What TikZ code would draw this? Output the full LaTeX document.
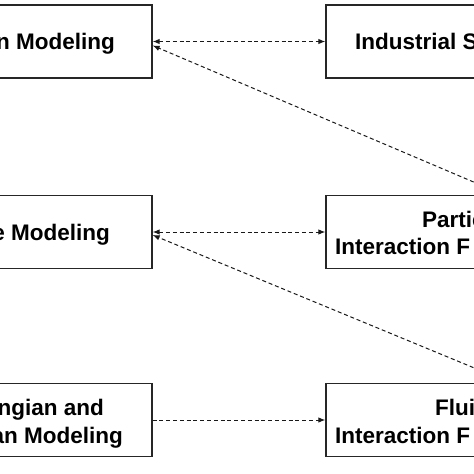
\documentclass[tikz,border=0pt]{standalone}
\usepackage{fontspec}
\setmainfont{Liberation Sans}
\usetikzlibrary{arrows.meta}

\begin{document}
\begin{tikzpicture}[x=1pt,y=-1pt,
    box/.style={draw=black!85, line width=1.3pt, minimum width=260pt, minimum height=73pt, inner sep=0pt},
    txt/.style={font=\fontsize{22.5}{27}\selectfont\bfseries, inner sep=0pt},
    link/.style={dash pattern=on 4pt off 2.8pt, line width=1pt, black!90},
    tip/.style={-{Latex[length=7pt,width=5.5pt]}},
    both/.style={{Latex[length=7pt,width=5.5pt]}-{Latex[length=7pt,width=5.5pt]}}]

        % Frame of the cropped view
        \useasboundingbox (0,0) rectangle (474,474);
        \clip (0,0) rectangle (474,474);

        % Draw the boxes (left column and right column)
        \node[box] (model) at (22,41.5) {};
        \node[box] (scale) at (456,41.5) {};
        \node[box] (multi) at (22,232) {};
        \node[box] (force) at (456,232) {};
        \node[box] (lagr) at (22,420) {};
        \node[box] (fluid) at (456,420) {};

        % Label the boxes
        \node[txt, anchor=base east] (modelA) at (115,49) {n Modeling};
        \node[txt, anchor=base west] (scaleA) at (355,49) {Industrial S};
        \node[txt, anchor=base east] (multiA) at (110,240) {e Modeling};
        \node[txt, anchor=base west] (forceA) at (422,227) {Partic};
        \node[txt, anchor=base west] (forceB) at (335,254) {Interaction F};
        \node[txt, anchor=base east] (lagrA) at (104,415) {ngian and};
        \node[txt, anchor=base east] (lagrB) at (123,443) {an Modeling};
        \node[txt, anchor=base west] (fluidA) at (435,415) {Fluid};
        \node[txt, anchor=base west] (fluidB) at (335,443) {Interaction F};

        % Free ends of the diagonal links (outside the view)
        \coordinate (farA) at (530,206);
        \coordinate (farB) at (530,391);

        % Draw the links
        \draw[link, both] (model.east) -- (scale.west);
        \draw[link, both] (multi.east) -- (force.west);
        \draw[link, tip] (lagr.east) -- (fluid.west);
        \draw[link, tip] (farA) -- ([yshift=-4pt]model.east);
        \draw[link, tip] (farB) -- ([yshift=-3pt]multi.east);

    \end{tikzpicture}
\end{document}
